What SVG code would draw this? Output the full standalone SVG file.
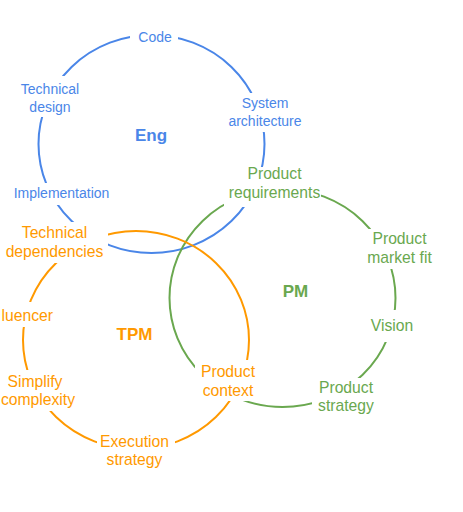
<svg xmlns="http://www.w3.org/2000/svg" width="463" height="512" viewBox="0 0 463 512">
  <style>
    .ring { fill: none; stroke-width: 2; }
    .bg { fill: #ffffff; }
    .lbl { font-family: "Liberation Sans", Arial, sans-serif; text-anchor: middle; }
    .eng { fill: #4a86e8; font-size: 14px; }
    .pm { fill: #6aa84f; font-size: 15.7px; }
    .tpm { fill: #ff9900; font-size: 15.7px; }
    .title { font-weight: bold; font-size: 17px; }
  </style>
  <rect width="463" height="512" fill="#ffffff"/>
  <g id="circles">
    <ellipse id="eng-circle" class="ring" cx="151.5" cy="144" rx="113" ry="109" stroke="#4a86e8"/>
    <ellipse id="pm-circle" class="ring" cx="282.5" cy="298" rx="113" ry="109" stroke="#6aa84f"/>
    <ellipse id="tpm-circle" class="ring" cx="136" cy="340" rx="113" ry="109" stroke="#ff9900"/>
  </g>
  <g id="connectors"></g>
  <g id="eng" class="lbl">
    <text class="eng title" x="151" y="141">Eng</text>
    <g id="code"><rect class="bg" x="130" y="27" width="48" height="21"/><text class="eng" x="155" y="42">Code</text></g>
    <g id="technical-design"><rect class="bg" x="14" y="76" width="72" height="41"/><text class="eng" x="50" y="94">Technical</text><text class="eng" x="50" y="112">design</text></g>
    <g id="system-architecture"><rect class="bg" x="224" y="93" width="84" height="39"/><text class="eng" x="265" y="108">System</text><text class="eng" x="265" y="126">architecture</text></g>
    <g id="implementation"><rect class="bg" x="9" y="183" width="107" height="22"/><text class="eng" x="61.5" y="198">Implementation</text></g>
  </g>
  <g id="pm" class="lbl">
    <text class="pm title" x="295.5" y="297">PM</text>
    <g id="product-requirements"><rect class="bg" x="224" y="167" width="97" height="40"/><text class="pm" x="274.5" y="179">Product</text><text class="pm" x="274.5" y="198">requirements</text></g>
    <g id="product-market-fit"><rect class="bg" x="364" y="229" width="71" height="40"/><text class="pm" x="399.5" y="244">Product</text><text class="pm" x="399.5" y="263">market fit</text></g>
    <g id="vision"><rect class="bg" x="368" y="310" width="48" height="32"/><text class="pm" x="392" y="331">Vision</text></g>
    <g id="product-strategy"><rect class="bg" x="312" y="378" width="68" height="40"/><text class="pm" x="346" y="393">Product</text><text class="pm" x="346" y="411">strategy</text></g>
  </g>
  <g id="tpm" class="lbl">
    <text class="tpm title" x="134.5" y="340">TPM</text>
    <g id="technical-dependencies"><rect class="bg" x="0" y="222" width="108" height="41"/><text class="tpm" x="54.5" y="238">Technical</text><text class="tpm" x="54.5" y="257">dependencies</text></g>
    <g id="influencer"><rect class="bg" x="0" y="302" width="56" height="25"/><text class="tpm" x="53" y="321" style="text-anchor:end">luencer</text></g>
    <g id="simplify-complexity"><rect class="bg" x="0" y="370" width="77" height="41"/><text class="tpm" x="35" y="387">Simplify</text><text class="tpm" x="38" y="405">complexity</text></g>
    <g id="product-context"><rect class="bg" x="195" y="360" width="63" height="41"/><text class="tpm" x="228" y="377">Product</text><text class="tpm" x="228" y="396">context</text></g>
    <g id="execution-strategy"><rect class="bg" x="97" y="430" width="78" height="42"/><text class="tpm" x="134.5" y="447">Execution</text><text class="tpm" x="134.5" y="465">strategy</text></g>
  </g>
</svg>
